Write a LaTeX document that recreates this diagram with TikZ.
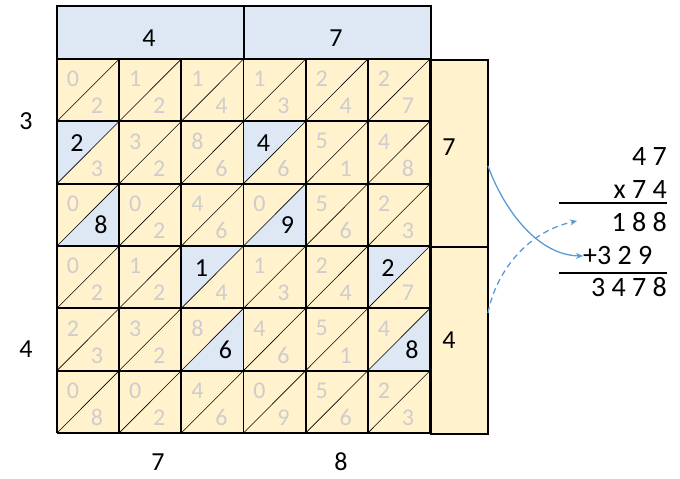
\documentclass[tikz,border=0pt]{standalone}
\usepackage{fontspec}
\setmainfont{Carlito}
\usetikzlibrary{arrows.meta}
\definecolor{cream}{HTML}{FFF2CC}
\definecolor{lblue}{HTML}{DEE8F5}
\definecolor{dgray}{HTML}{CFCDCD}
\definecolor{arrowblue}{HTML}{5B9BD5}
\begin{document}
\begin{tikzpicture}[x=1pt,y=-1pt,
  gd/.style={text=dgray,font=\fontsize{24pt}{24pt}\selectfont,inner sep=0pt},
  bd/.style={text=black,font=\fontsize{26pt}{26pt}\selectfont,inner sep=0pt},
  tl0/.style={gd}, tl2/.style={gd},
  tl1/.style={bd,xshift=4pt,yshift=-2pt},
  br0/.style={gd}, br1/.style={gd},
  br2/.style={bd,xshift=4pt,yshift=6pt},
  lbl/.style={font=\fontsize{26pt}{26pt}\selectfont,inner sep=0pt},
  arith/.style={font=\fontsize{28pt}{28pt}\selectfont,inner sep=0pt},
  boxstyle/.style={draw=black,line width=1.5pt,inner sep=0pt,anchor=north west},
  conn/.style={draw=arrowblue,line width=1.3pt,-{Stealth[length=7pt,width=6pt]}}
]
\useasboundingbox (0,0) rectangle (680,479);
% top boxes
\node[boxstyle,fill=lblue,minimum width=187pt,minimum height=53pt] (topA) at (56,5) {};
\node[boxstyle,fill=lblue,minimum width=187pt,minimum height=53pt] (topB) at (243,5) {};
\node[lbl] (lt4) at (149,38) {4};
\node[lbl] (lt7) at (336,38) {7};
% right boxes
\node[boxstyle,fill=cream,minimum width=57pt,minimum height=187pt] (rbA) at (430,59) {};
\node[boxstyle,fill=cream,minimum width=57pt,minimum height=187pt] (rbB) at (430,246) {};
\node[lbl] (lr7) at (449,147) {7};
\node[lbl] (lr4) at (449,340) {4};
% grid cells
\def\cw{62.17}
\def\ch{62.33}
\foreach \r/\c/\a/\b/\s in {
 0/0/0/2/0, 0/1/1/2/0, 0/2/1/4/0, 0/3/1/3/0, 0/4/2/4/0, 0/5/2/7/0,
 1/0/2/3/1, 1/1/3/2/0, 1/2/8/6/0, 1/3/4/6/1, 1/4/5/1/0, 1/5/4/8/0,
 2/0/0/8/2, 2/1/0/2/0, 2/2/4/6/0, 2/3/0/9/2, 2/4/5/6/0, 2/5/2/3/0,
 3/0/0/2/0, 3/1/1/2/0, 3/2/1/4/1, 3/3/1/3/0, 3/4/2/4/0, 3/5/2/7/1,
 4/0/2/3/0, 4/1/3/2/0, 4/2/8/6/2, 4/3/4/6/0, 4/4/5/1/0, 4/5/4/8/2,
 5/0/0/8/0, 5/1/0/2/0, 5/2/4/6/0, 5/3/0/9/0, 5/4/5/6/0, 5/5/2/3/0}{
  \pgfmathsetmacro\xa{57+\c*\cw}
  \pgfmathsetmacro\ya{59+\r*\ch}
  \pgfmathsetmacro\xb{\xa+\cw}
  \pgfmathsetmacro\yb{\ya+\ch}
  \fill[cream] (\xa,\ya) rectangle (\xb,\yb);
  \ifnum\s=1 \fill[lblue] (\xa,\ya) -- (\xb,\ya) -- (\xa,\yb) -- cycle; \fi
  \ifnum\s=2 \fill[lblue] (\xb,\ya) -- (\xb,\yb) -- (\xa,\yb) -- cycle; \fi
  \draw[line width=0.6pt] (\xa,\yb) -- (\xb,\ya);
  \node[tl\s] (t\r\c) at (\xa+16,\ya+20) {\a};
  \node[br\s] (b\r\c) at (\xa+40,\ya+47) {\b};
}
\foreach \i in {0,...,6}{
  \pgfmathsetmacro\xx{57+\i*\cw}
  \pgfmathsetmacro\yy{59+\i*\ch}
  \draw[line width=1.8pt] (\xx,59) -- (\xx,433);
  \draw[line width=1.8pt] (57,\yy) -- (430,\yy);
}
% side labels
\node[lbl] (ll3) at (26,121) {3};
\node[lbl] (ll4) at (26,349) {4};
\node[lbl] (lb7) at (158,462) {7};
\node[lbl] (lb8) at (341,462) {8};
% arithmetic
\node[arith,anchor=east] (m1) at (667,157) {4 7};
\node[arith,anchor=east] (m2) at (667,190) {x 7 4};
\node[arith,anchor=east] (m3) at (667,222) {1 8 8};
\node[arith,anchor=west] (m4) at (583,256) {+3 2 9};
\node[arith,anchor=east] (m5) at (667,287) {3 4 7 8};
\coordinate (r1a) at (559,203);
\coordinate (r1b) at (667,203);
\coordinate (r2a) at (559,273);
\coordinate (r2b) at (667,273);
\draw[line width=1.5pt] (r1a) -- (r1b);
\draw[line width=1.5pt] (r2a) -- (r2b);
% connectors
\coordinate (s1) at (488,166);
\coordinate (d1) at (488,313);
\coordinate (d2) at (577,221);
\draw[conn] (s1) .. controls (502,205) and (535,255) .. (m4.west);
\draw[conn,dash pattern=on 6pt off 4pt] (d1) .. controls (495,275) and (525,232) .. (d2);
\end{tikzpicture}
\end{document}
